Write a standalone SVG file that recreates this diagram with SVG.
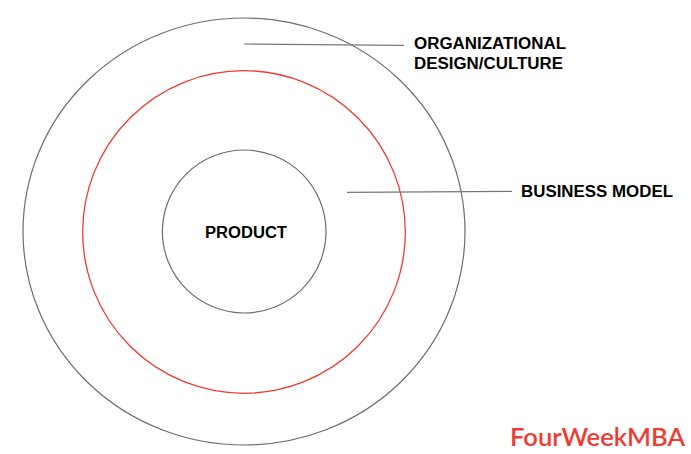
<svg xmlns="http://www.w3.org/2000/svg" width="691" height="454" viewBox="0 0 691 454">
<style>
.ring{fill:none;stroke:#6e6e6e;stroke-width:1.2}
.red{fill:none;stroke:#ee3b33;stroke-width:1.3}
.lbl{font-family:"Liberation Sans",Arial,sans-serif;font-weight:bold;font-size:17.4px;fill:#000}
.conn{stroke:#777;stroke-width:1.2;fill:none}
</style>
<rect width="691" height="454" fill="#fff"/>
<g id="outer"><ellipse class="ring" cx="244" cy="231.5" rx="221" ry="213.5"/></g>
<g id="business-model-ring"><circle class="red" cx="244" cy="232" r="161.3"/></g>
<g id="product"><ellipse class="ring" cx="244.2" cy="231.5" rx="81.8" ry="81.5"/>
<text class="lbl" x="205" y="237.7" textLength="82" lengthAdjust="spacingAndGlyphs">PRODUCT</text></g>
<g id="org-label"><text class="lbl" x="414" y="49.3" textLength="152" lengthAdjust="spacingAndGlyphs">ORGANIZATIONAL</text>
<text class="lbl" x="414" y="69.3" textLength="149" lengthAdjust="spacingAndGlyphs">DESIGN/CULTURE</text></g>
<g id="bm-label"><text class="lbl" x="521" y="197.3" textLength="152" lengthAdjust="spacingAndGlyphs">BUSINESS MODEL</text></g>
<g id="connectors">
<line class="conn" x1="244" y1="44" x2="404" y2="45.3"/>
<line class="conn" x1="347" y1="192.3" x2="512" y2="191.3"/>
</g>
<g id="brand"><text x="510" y="445.7" font-family="Lato,'Open Sans',sans-serif" font-size="24" font-weight="600" fill="#ee3b33" textLength="175" lengthAdjust="spacingAndGlyphs">FourWeekMBA</text></g>
</svg>
